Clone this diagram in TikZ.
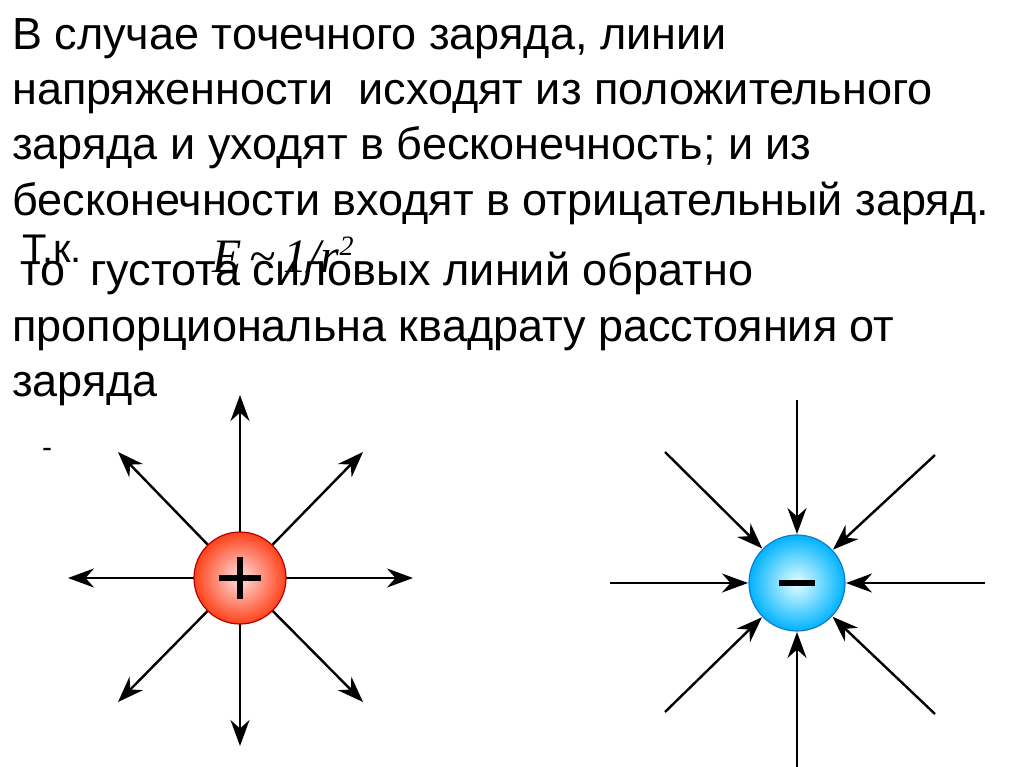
\documentclass[tikz,border=0pt]{standalone}
\usepackage{fontspec}
\setmainfont{Liberation Sans}
\newfontfamily\tms{Liberation Serif}
\usetikzlibrary{arrows.meta,calc}
\begin{document}
\begin{tikzpicture}[x=1pt,y=-1pt,
  txt/.style={anchor=base west,inner sep=0pt,font=\fontsize{45}{45}\selectfont},
  fl/.style={line width=2.4pt,-{Stealth[length=26pt,width=19pt]}}]
\useasboundingbox (0,0) rectangle (1024,767);
\node[txt] (l1) at (12,50) {В случае точечного заряда, линии};
\node[txt] (l2) at (12,105) {напряженности \ исходят из положительного};
\node[txt] (l3) at (12,160) {заряда и уходят в бесконечность; и из};
\node[txt] (l4) at (12,215) {бесконечности входят в отрицательный заряд.};
\node[txt,font=\fontsize{40}{40}\selectfont] (tk) at (22,262) {Т.к.};
\node[anchor=base west,inner sep=0pt,font=\tms\fontsize{48}{48}\selectfont\itshape] (f) at (212,272) {E\,\textasciitilde\,1/r\raisebox{17pt}{\fontsize{28}{28}\selectfont 2}};
\node[txt] (l5) at (20,285) {то\ \ густота силовых линий обратно};
\node[txt] (l6) at (12,341) {пропорциональна квадрату расстояния от};
\node[txt] (l7) at (12,396) {заряда};
\node[txt,font=\fontsize{30}{30}\selectfont] (d) at (42,457) {-};
% positive
\coordinate (p) at (240,578);
\foreach \x/\y in {240/395,240/746,68/578,413/578,118/452,363/452,118/702,363/702}
  \draw[fl] (p) -- (\x,\y);
\shade[inner color=red!12,outer color=red!65!orange!90] (p) circle (46);
\draw[red!70!black,line width=1.2pt] (p) circle (46);
\draw[line width=6pt] (219,578) -- (261,578) (240,557) -- (240,599);
% negative
\coordinate (n) at (797,583);
\foreach \x/\y in {797/400,797/767,610/583,985/583,665/452,935/455,665/712,935/714}
  \draw[fl] (\x,\y) -- ($(n)!49pt!(\x,\y)$);
\shade[inner color=cyan!10,outer color=cyan!70!blue] (n) circle (48);
\draw[cyan!60!blue,line width=1.2pt] (n) circle (48);
\draw[line width=6pt] (779,583) -- (815,583);
\end{tikzpicture}
\end{document}
